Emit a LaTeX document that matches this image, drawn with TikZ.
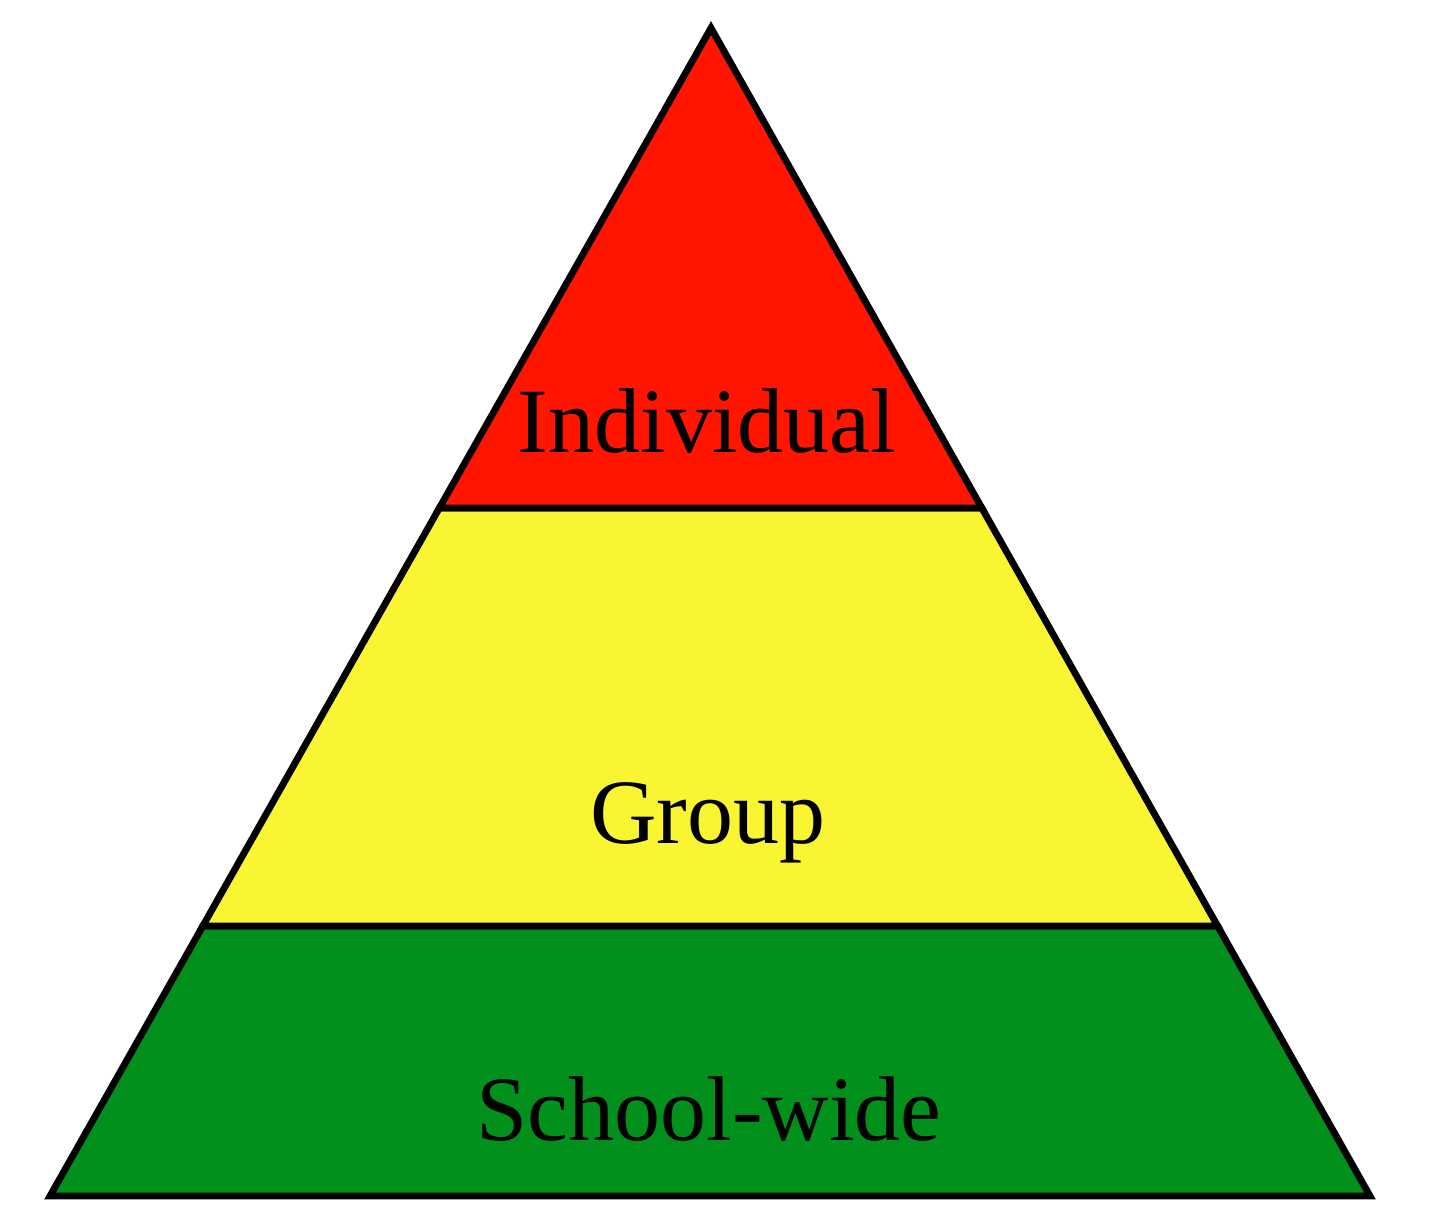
\documentclass[tikz,border=0pt]{standalone}
\usepackage{fontspec}
\setmainfont{Liberation Serif}
\usetikzlibrary{positioning,calc}

\definecolor{tierred}{HTML}{FF1500}
\definecolor{tieryellow}{HTML}{FAF532}
\definecolor{tiergreen}{HTML}{00901B}

\tikzset{
  tier/.style={draw=black, line width=3.4pt, line join=miter},
  tierlabel/.style={font=\fontsize{46}{55}\selectfont, inner sep=0pt, anchor=base}
}

\begin{document}
\begin{tikzpicture}[x=0.5pt, y=-0.5pt]
\useasboundingbox (0, 0) rectangle (1440, 1219);

\def\xtop{711}
\def\ytop{28}
\def\ya{508}
\def\yb{926}
\def\yc{1196}

\coordinate (apex) at (\xtop, \ytop);
\coordinate (bl) at (50, \yc);
\coordinate (br) at (1370, \yc);
\coordinate (al) at ($(apex)!{(\ya-\ytop)/(\yc-\ytop)}!(bl)$);
\coordinate (ar) at ($(apex)!{(\ya-\ytop)/(\yc-\ytop)}!(br)$);
\coordinate (gl) at ($(apex)!{(\yb-\ytop)/(\yc-\ytop)}!(bl)$);
\coordinate (gr) at ($(apex)!{(\yb-\ytop)/(\yc-\ytop)}!(br)$);

\filldraw[tier, fill=tiergreen] (gl) -- (gr) -- (br) -- (bl) -- cycle;
\filldraw[tier, fill=tieryellow] (al) -- (ar) -- (gr) -- (gl) -- cycle;
\filldraw[tier, fill=tierred] (apex) -- (ar) -- (al) -- cycle;

\node[tierlabel] (individual) at (707, 452) {Individual};
\node[tierlabel] (group) at (708, 843) {Group};
\node[tierlabel] (school) at (709, 1140) {School-wide};

\end{tikzpicture}
\end{document}
